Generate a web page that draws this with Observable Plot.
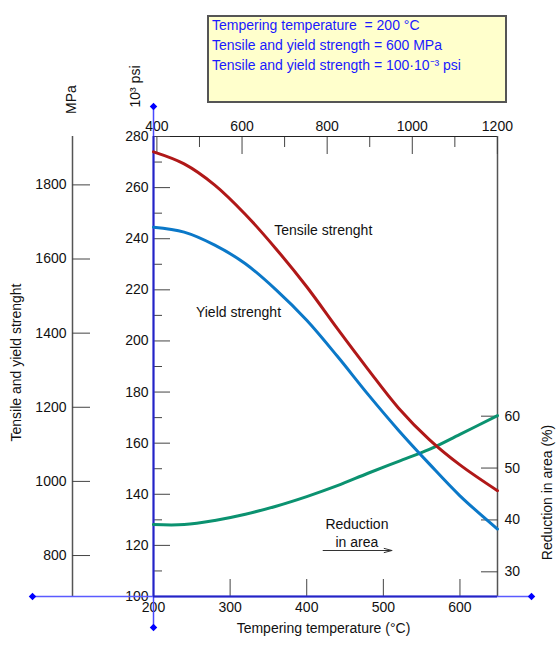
<!DOCTYPE html>
<html><head><meta charset="utf-8">
<script src="https://cdn.jsdelivr.net/npm/d3@7"></script>
<script src="https://cdn.jsdelivr.net/npm/@observablehq/plot@0.6"></script>
<style>
body{margin:0;background:#fff;}
#wrap{position:relative;width:559px;height:660px;font-family:"Liberation Sans",Arial,sans-serif;}
#chart{position:absolute;left:0;top:0;}
#box{position:absolute;left:207px;top:15px;width:296px;height:84px;background:#ffffcc;border:2px solid #555;}
#boxtext{position:absolute;left:212px;top:15px;font-size:14px;line-height:20px;color:#1a1aff;white-space:pre;}
</style></head><body>
<div id="wrap"><div id="chart"></div><div id="box"></div><div id="boxtext"></div></div>
<script>
// ---- data ----
const tempC        = [200, 240, 280, 320, 360, 400, 440, 480, 520, 560, 600, 649];
const tensileKsi   = [274, 269.3, 261, 249.5, 236, 221.2, 204.8, 188.9, 173.7, 161.4, 151.5, 141.4];
const yieldKsi     = [244.5, 242.6, 237.5, 230.2, 220, 208.1, 194, 179.1, 165, 151.9, 139.4, 126.4];
const reductionPct = [39.1, 39.1, 39.9, 41.1, 42.65, 44.5, 46.6, 49.0, 51.3, 53.6, 56.5, 60.1];

// tick labels
const cTicks     = [200, 300, 400, 500, 600];
const fMajor     = [400, 600, 800, 1000, 1200];
const fMinor     = [500, 700, 900, 1100];
const ksiMajor   = [100, 120, 140, 160, 180, 200, 220, 240, 260, 280];
const ksiMinor   = [110, 130, 150, 170, 190, 210, 230, 250, 270];
const mpaTicks   = [800, 1000, 1200, 1400, 1600, 1800];
const pctTicks   = [30, 40, 50, 60];

const legendLines = [
  "Tempering temperature  = 200 °C",
  "Tensile and yield strength = 600 MPa",
  "Tensile and yield strength = 100·10⁻³ psi"
];
const curveNotes = [
  {x: 357.6, y: 243.2, text: "Tensile strenght"},
  {x: 255.4, y: 211.2, text: "Yield strenght"}
];
const areaNote = [{x: 465.5, y: 125.2, text: "Reduction\nin area"}];
const arrowSeg = [{x1: 421.4, x2: 511.2, y: 118}];

// ---- conversions ----
const MPA_PER_KSI = 6.894757;
const mpaToKsi = m => m / MPA_PER_KSI;
const fToC = f => (f - 32) * 5 / 9;
const cToF = c => c * 9 / 5 + 32;
const pctToKsi = p => 109.66 + (p - 30) * 2.03;
const ksiToPct = k => 30 + (k - 109.66) / 2.03;

const rows = tempC.map((t, i) => ({t, tensile: tensileKsi[i], yld: yieldKsi[i], red: pctToKsi(reductionPct[i])}));

const tickCol = "#444";
const xMax = 649;
const mid = {textAnchor: "middle", lineAnchor: "middle"};

const chart = Plot.plot({
  width: 559, height: 660,
  marginLeft: 153, marginRight: 62, marginTop: 136, marginBottom: 64,
  style: {fontFamily: '"Liberation Sans", Arial, sans-serif', fontSize: "14px", color: "#111", background: "transparent"},
  x: {domain: [200, xMax], axis: null},
  y: {domain: [100, 280], axis: null},
  marks: [
    // frame (top & right)
    Plot.ruleY([280], {stroke: "#222", strokeWidth: 1.2}),
    Plot.ruleX([xMax], {stroke: "#555", strokeWidth: 1.5}),
    // MPa axis line
    Plot.ruleX([200], {dx: -81, stroke: "#555", strokeWidth: 1.5}),
    // ksi ticks and labels
    Plot.axisY(ksiMinor, {anchor: "left", tickSize: -9, fill: "none", stroke: tickCol, label: null}),
    Plot.axisY(ksiMajor, {anchor: "left", tickSize: -17, fill: "none", stroke: tickCol, label: null}),
    Plot.axisY(ksiMajor, {anchor: "left", tickSize: 0, tickPadding: 5, label: null}),
    // MPa ticks and labels
    Plot.axisY(mpaTicks.map(mpaToKsi), {anchor: "left", dx: -81, tickSize: -18, fill: "none", stroke: tickCol, label: null}),
    Plot.axisY(mpaTicks.map(mpaToKsi), {anchor: "left", dx: -81, tickSize: 0, tickPadding: 6, label: null, tickFormat: d => String(Math.round(d * MPA_PER_KSI))}),
    // reduction % axis (right)
    Plot.axisY(pctTicks.map(pctToKsi), {anchor: "right", tickSize: -17, fill: "none", stroke: tickCol, label: null}),
    Plot.axisY(pctTicks.map(pctToKsi), {anchor: "right", tickSize: 0, tickPadding: 7, label: null, tickFormat: d => String(Math.round(ksiToPct(d)))}),
    // top °F axis
    Plot.axisX(fMinor.map(fToC), {anchor: "top", tickSize: -10, fill: "none", stroke: tickCol, label: null}),
    Plot.axisX(fMajor.map(fToC), {anchor: "top", tickSize: -17, fill: "none", stroke: tickCol, label: null}),
    Plot.axisX(fMajor.map(fToC), {anchor: "top", tickSize: 0, tickPadding: 6, label: null, tickFormat: d => String(Math.round(cToF(d)))}),
    // bottom °C axis
    Plot.axisX(cTicks, {anchor: "bottom", tickSize: -17, fill: "none", stroke: tickCol, label: null}),
    Plot.axisX(cTicks, {anchor: "bottom", tickSize: 0, tickPadding: 6, label: null}),
    // blue construction lines
    Plot.ruleY([100], {stroke: "#5a5aff", strokeWidth: 1.5, insetLeft: -121, insetRight: -34}),
    Plot.ruleX([200], {stroke: "#4a4aff", strokeWidth: 1.5, insetTop: -30, insetBottom: -31}),
    Plot.ruleY([100], {stroke: "#2424c4", strokeWidth: 2}),
    Plot.ruleX([200], {stroke: "#2424c4", strokeWidth: 2}),
    Plot.dot([100], {y: d => d, frameAnchor: "left", dx: -121, symbol: "diamond2", r: 3.4, fill: "#0000ff"}),
    Plot.dot([100], {y: d => d, frameAnchor: "right", dx: 34, symbol: "diamond2", r: 3.4, fill: "#0000ff"}),
    Plot.dot([200], {x: d => d, frameAnchor: "top", dy: -30, symbol: "diamond2", r: 3.4, fill: "#0000ff"}),
    Plot.dot([200], {x: d => d, frameAnchor: "bottom", dy: 31, symbol: "diamond2", r: 3.4, fill: "#0000ff"}),
    // curves
    Plot.line(rows, {x: "t", y: "red", stroke: "#0b9270", strokeWidth: 3, curve: "catmull-rom"}),
    Plot.line(rows, {x: "t", y: "tensile", stroke: "#b01818", strokeWidth: 3, curve: "catmull-rom"}),
    Plot.line(rows, {x: "t", y: "yld", stroke: "#0b78c8", strokeWidth: 3, curve: "catmull-rom"}),
    // annotations
    Plot.text(curveNotes, {x: "x", y: "y", text: "text", textAnchor: "start", lineAnchor: "middle", fill: "#111"}),
    Plot.text(areaNote, {x: "x", y: "y", text: "text", textAnchor: "middle", lineAnchor: "middle", lineHeight: 1.3, fill: "#111"}),
    Plot.arrow(arrowSeg, {x1: "x1", x2: "x2", y1: "y", y2: "y", stroke: "#333", strokeWidth: 1, headLength: 12, headAngle: 30}),
    // axis titles
    Plot.text(["MPa"], {text: d => d, frameAnchor: "top-left", dx: -81.5, dy: -37, rotate: -90, ...mid}),
    Plot.text(["10³ psi"], {text: d => d, frameAnchor: "top-left", dx: -18, dy: -50, rotate: -90, ...mid}),
    Plot.text(["Tensile and yield strenght"], {text: d => d, frameAnchor: "left", dx: -137, dy: -4, rotate: -90, ...mid}),
    Plot.text(["Reduction in area (%)"], {text: d => d, frameAnchor: "right", dx: 50, dy: 126, rotate: -90, ...mid}),
    Plot.text(["Tempering temperature (°C)"], {text: d => d, frameAnchor: "bottom", dx: -2, dy: 32, ...mid})
  ]
});
document.getElementById("chart").appendChild(chart);
document.getElementById("boxtext").textContent = legendLines.join("\n");
</script>
</body></html>
